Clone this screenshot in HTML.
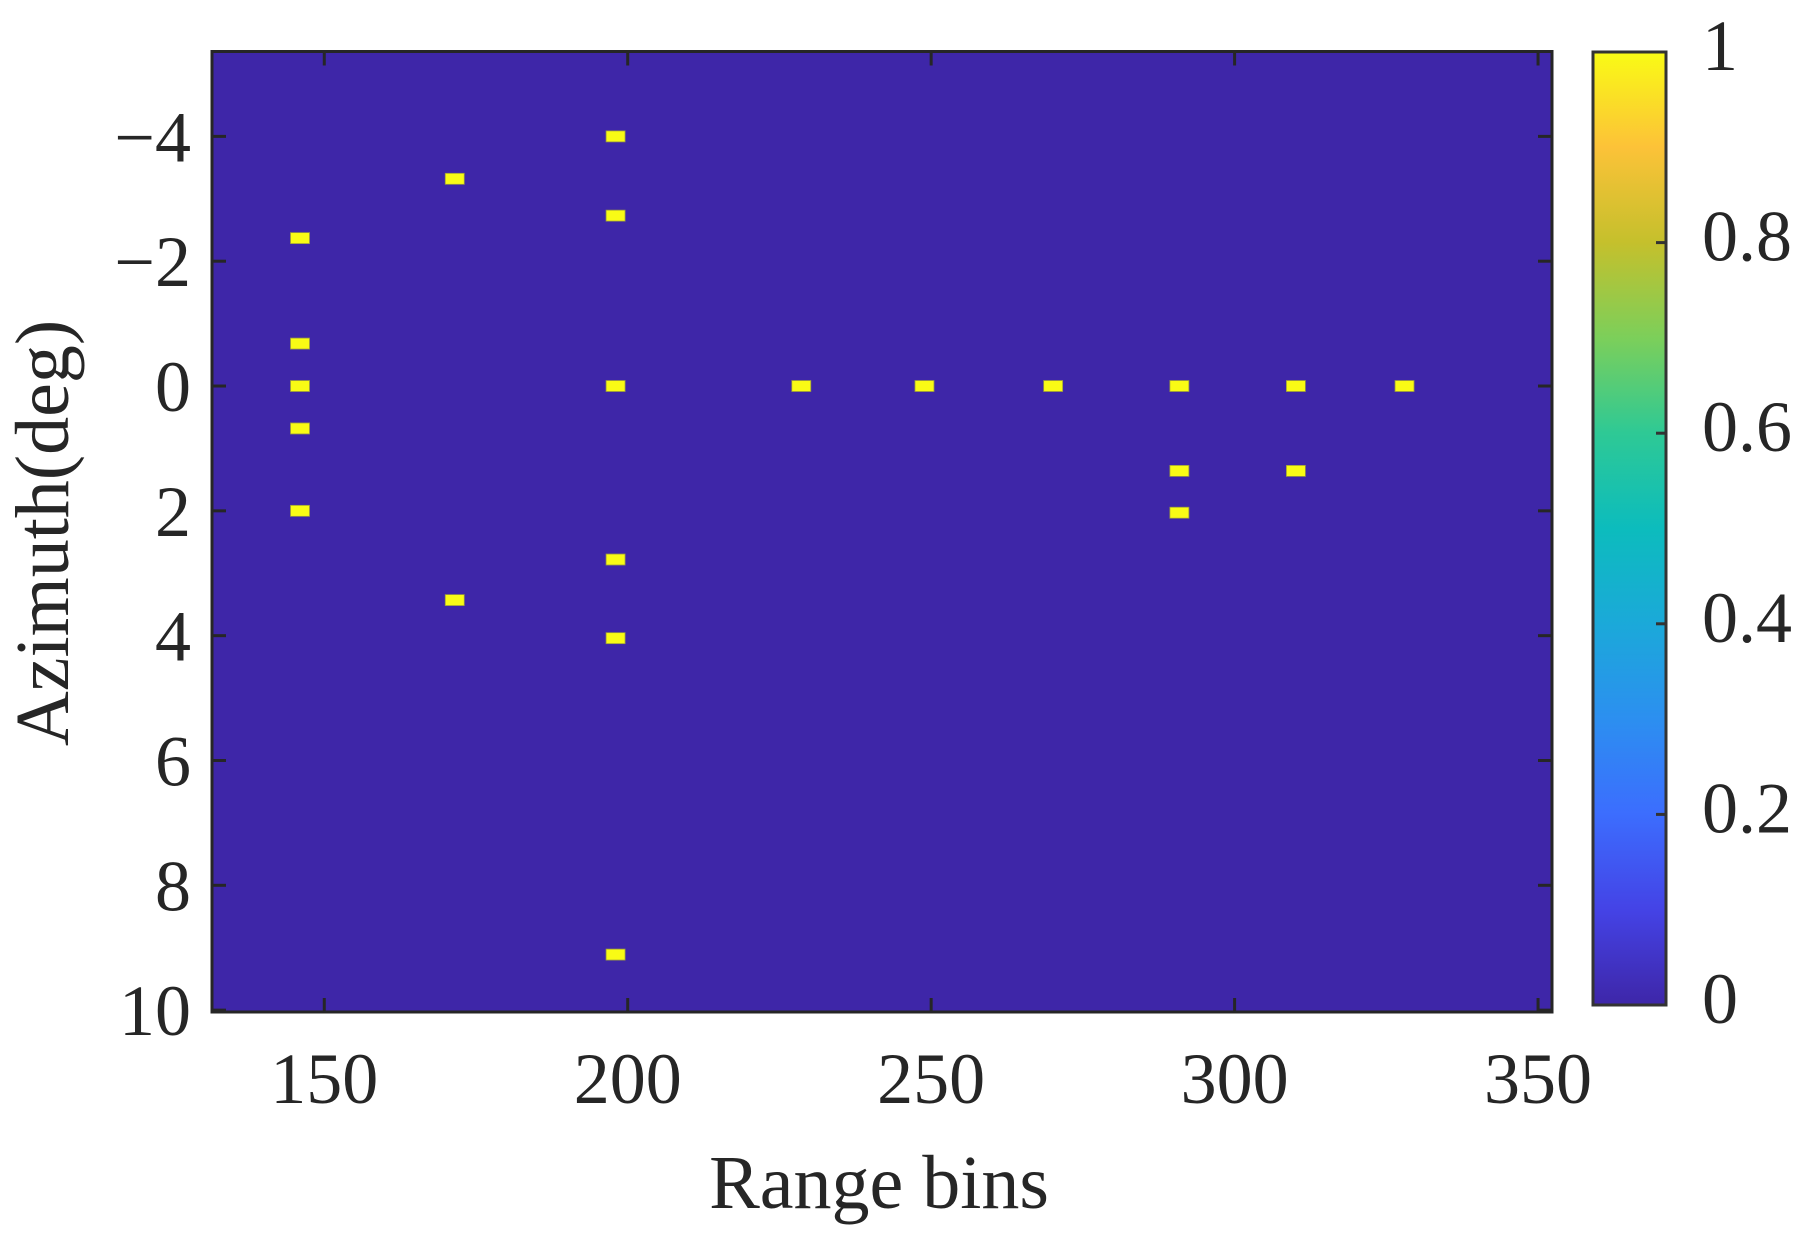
<!DOCTYPE html>
<html><head><meta charset="utf-8">
<style>
html,body{margin:0;padding:0;background:#fff;}
svg{display:block;}
text{font-family:"Liberation Serif",serif;fill:#262626;}
</style></head>
<body>
<svg id="chart" width="1808" height="1241" viewBox="0 0 1808 1241" xmlns="http://www.w3.org/2000/svg">
<defs>
<linearGradient id="parula" x1="0" y1="1" x2="0" y2="0">
<stop offset="0" stop-color="#3e26a8"/>
<stop offset="0.1" stop-color="#4443e6"/>
<stop offset="0.2" stop-color="#3c6dfe"/>
<stop offset="0.3" stop-color="#2c8ff0"/>
<stop offset="0.4" stop-color="#1ba9d9"/>
<stop offset="0.5" stop-color="#0cbcbd"/>
<stop offset="0.6" stop-color="#2ec995"/>
<stop offset="0.7" stop-color="#7ccf5a"/>
<stop offset="0.8" stop-color="#c5c02c"/>
<stop offset="0.9" stop-color="#fcc238"/>
<stop offset="1" stop-color="#f9fb15"/>
</linearGradient>
</defs>
<g id="plot"></g>
</svg>
<script>
const rangeBins = [146,146,146,146,146,171.5,171.5,198,198,198,198,198,198,228.6,248.9,270.1,290.9,290.9,290.9,310.1,310.1,328];
const azimuths  = [-2.37,-0.68,0,0.68,2,-3.32,3.43,-4,-2.73,0,2.78,4.04,9.11,0,0,0,0,1.36,2.03,0,1.36,0];
const cellValues = [1,1,1,1,1,1,1,1,1,1,1,1,1,1,1,1,1,1,1,1,1,1];
const xTicks = [150,200,250,300,350];
const yTicks = [-4,-2,0,2,4,6,8,10];
const yTickLabels = ["\u22124","\u22122","0","2","4","6","8","10"];
const cbTicks = [0,0.2,0.4,0.6,0.8,1];
const cbTickLabels = ["0","0.2","0.4","0.6","0.8","1"];

const NS="http://www.w3.org/2000/svg";
const L=212,R=1552,T=51.5,B=1012;
const xMin=131.5,xMax=352.3,yMin=-5.36,yMax=10.03;
const sx=v=>L+(v-xMin)/(xMax-xMin)*(R-L);
const sy=v=>T+(v-yMin)/(yMax-yMin)*(B-T);
const CT=52,CB=1005,CL=1593,CR=1666;
const cy=v=>CB-v*(CB-CT);
const g=document.getElementById('plot');
function mk(tag,attrs,parent){const e=document.createElementNS(NS,tag);for(const k in attrs)e.setAttribute(k,attrs[k]);(parent||g).appendChild(e);return e;}

const bg=mk('rect',{x:L,y:T,width:R-L,height:B-T,fill:'#3e26a8'});



for(let i=0;i<rangeBins.length;i++){
  const w=19,h=11;
  const c=mk('rect',{x:sx(rangeBins[i])-w/2,y:sy(azimuths[i])-h/2,width:w,height:h,fill:cellValues[i]>=1?'#f9fb15':'#3e26a8',stroke:'#9a9a40','stroke-width':0.8});
  
  
}

const frame=mk('rect',{x:L,y:T,width:R-L,height:B-T,fill:'none',stroke:'#262626','stroke-width':3});



xTicks.forEach(t=>{
  const x=sx(t);
  mk('line',{x1:x,y1:B,x2:x,y2:B-14,stroke:'#262626','stroke-width':3});
  mk('line',{x1:x,y1:T,x2:x,y2:T+14,stroke:'#262626','stroke-width':3});
  const tx=mk('text',{x:x,y:1103,'font-size':72,'text-anchor':'middle'});
  tx.textContent=t;
  
  
});
yTicks.forEach((t,i)=>{
  const y=sy(t);
  mk('line',{x1:L,y1:y,x2:L+14,y2:y,stroke:'#262626','stroke-width':3});
  mk('line',{x1:R,y1:y,x2:R-14,y2:y,stroke:'#262626','stroke-width':3});
  const tx=mk('text',{x:191,y:y+25,'font-size':72,'text-anchor':'end'});
  tx.textContent=yTickLabels[i];
  
  
});

const xl=mk('text',{x:879,y:1208,'font-size':76,'text-anchor':'middle'});
xl.textContent='Range bins';


const yl=mk('text',{x:0,y:0,'font-size':76,'text-anchor':'middle',transform:'translate(68,533) rotate(-90)'});
yl.textContent='Azimuth(deg)';



const cb=mk('rect',{x:CL,y:CT,width:CR-CL,height:CB-CT,fill:'url(#parula)',stroke:'#333','stroke-width':3});


cbTicks.forEach((t,i)=>{
  const y=cy(t);
  mk('line',{x1:CR,y1:y,x2:CR-10,y2:y,stroke:'#333','stroke-width':3});
  const tx=mk('text',{x:1702,y:y+18,'font-size':72,fill:'#000'});
  tx.textContent=cbTickLabels[i];
  
  
});
</script>
</body></html>
